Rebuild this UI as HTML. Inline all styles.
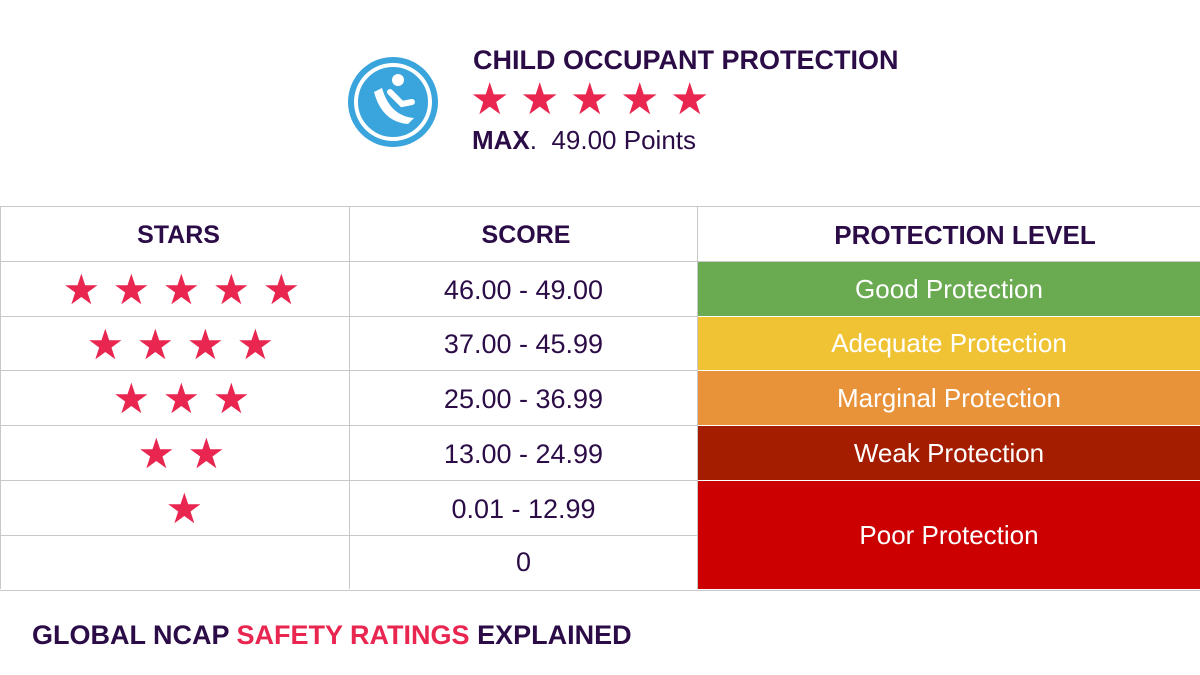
<!DOCTYPE html>
<html><head><meta charset="utf-8"><style>
body{margin:0;width:1200px;height:675px;background:#fff;font-family:"Liberation Sans",sans-serif;position:relative;overflow:hidden}
.a{position:absolute}
.t{color:#2b0c47;font-weight:bold}
.cell{position:absolute;display:flex;align-items:center;justify-content:center;font-size:25px;color:#2b0c47}
.sc{font-size:27px}
.st{color:#e8264f;font-size:42px;line-height:1;gap:14px}
.st span{display:block;width:36px;text-align:center}
.lv{color:#fff;font-size:26px}
</style></head><body>
<svg class="a" style="left:346px;top:52px" width="96" height="104" viewBox="0 0 96 104">
<circle cx="47" cy="50" r="45" fill="#3aa4dc"/>
<circle cx="47" cy="50" r="37" fill="none" stroke="#fff" stroke-width="4"/>
<circle cx="52" cy="28" r="6" fill="#fff"/>
<path d="M28 40 Q36 70 62 72 L68 66 Q44 64 36 36 Z" fill="#fff"/>
<path d="M44 40 L56 52 L66 50" stroke="#fff" stroke-width="6" fill="none" stroke-linecap="round"/>
</svg>
<div class="a t" style="left:473px;top:45px;font-size:27px">CHILD OCCUPANT PROTECTION</div>
<div class="a cell st" style="left:470px;top:80px;height:40px;font-size:44px"><span>★</span><span>★</span><span>★</span><span>★</span><span>★</span></div>
<div class="a" style="left:472px;top:125px;font-size:26px;color:#2b0c47"><b>MAX</b>.&nbsp; 49.00 Points</div>

<div class="a" style="left:0;top:206px;width:1200px;height:383px;border-top:1px solid #c8c8c8;border-bottom:1px solid #c8c8c8"></div>
<div class="a" style="left:0;top:206px;width:1px;height:383px;background:#c8c8c8"></div>
<div class="a" style="left:349px;top:206px;width:1px;height:383px;background:#c8c8c8"></div>
<div class="a" style="left:697px;top:206px;width:1px;height:383px;background:#c8c8c8"></div>
<div class="a" style="left:0;top:261px;width:697px;height:1px;background:#c8c8c8"></div>
<div class="a" style="left:0;top:316px;width:697px;height:1px;background:#c8c8c8"></div>
<div class="a" style="left:0;top:370px;width:697px;height:1px;background:#c8c8c8"></div>
<div class="a" style="left:0;top:425px;width:697px;height:1px;background:#c8c8c8"></div>
<div class="a" style="left:0;top:480px;width:697px;height:1px;background:#c8c8c8"></div>
<div class="a" style="left:0;top:535px;width:697px;height:1px;background:#c8c8c8"></div>
<div class="a" style="left:697px;top:261px;width:503px;height:1px;background:#c8c8c8"></div>

<div class="cell t" style="left:0;top:207px;width:357px;height:56px">STARS</div>
<div class="cell t" style="left:350px;top:207px;width:352px;height:56px">SCORE</div>
<div class="cell t" style="left:698px;top:207px;width:534px;height:56px;font-size:26px">PROTECTION LEVEL</div>

<div class="cell st" style="left:0;top:262px;width:361px;height:56px"><span>★</span><span>★</span><span>★</span><span>★</span><span>★</span></div>
<div class="cell st" style="left:0;top:317px;width:359px;height:55px"><span>★</span><span>★</span><span>★</span><span>★</span></div>
<div class="cell st" style="left:0;top:371px;width:361px;height:56px"><span>★</span><span>★</span><span>★</span></div>
<div class="cell st" style="left:0;top:426px;width:361px;height:56px"><span>★</span><span>★</span></div>
<div class="cell st" style="left:0;top:481px;width:367px;height:56px"><span>★</span></div>

<div class="cell sc" style="left:350px;top:262px;width:347px;height:56px">46.00 - 49.00</div>
<div class="cell sc" style="left:350px;top:317px;width:347px;height:55px">37.00 - 45.99</div>
<div class="cell sc" style="left:350px;top:371px;width:347px;height:56px">25.00 - 36.99</div>
<div class="cell sc" style="left:350px;top:426px;width:347px;height:56px">13.00 - 24.99</div>
<div class="cell sc" style="left:350px;top:481px;width:347px;height:56px">0.01 - 12.99</div>
<div class="cell sc" style="left:350px;top:536px;width:347px;height:53px">0</div>

<div class="cell lv" style="left:698px;top:262px;width:502px;height:54px;background:#6aaa50">Good Protection</div>
<div class="cell lv" style="left:698px;top:317px;width:502px;height:53px;background:#efc333">Adequate Protection</div>
<div class="cell lv" style="left:698px;top:371px;width:502px;height:54px;background:#e8923a">Marginal Protection</div>
<div class="cell lv" style="left:698px;top:426px;width:502px;height:54px;background:#a51d00">Weak Protection</div>
<div class="cell lv" style="left:698px;top:481px;width:502px;height:108px;background:#cc0000">Poor Protection</div>

<div class="a t" style="left:32px;top:620px;font-size:27px">GLOBAL NCAP <span style="color:#e8264f">SAFETY RATINGS</span> EXPLAINED</div>
</body></html>
